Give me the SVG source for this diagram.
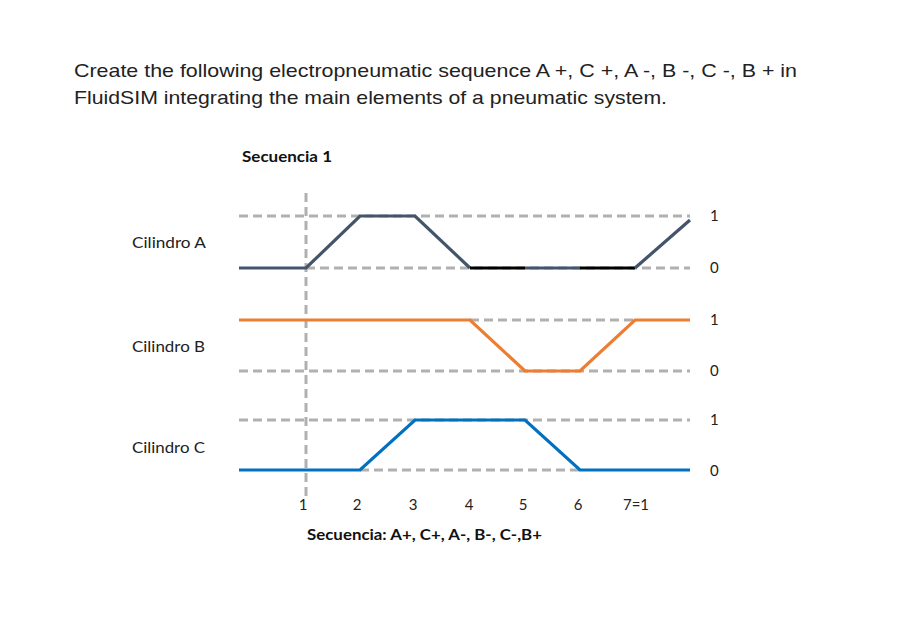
<svg xmlns="http://www.w3.org/2000/svg" width="900" height="630" viewBox="0 0 900 630">
<style>
.title{font-family:"Liberation Sans",Arial,sans-serif;font-size:19px;fill:#222}
.lab{font-family:Lato,"Noto Sans",sans-serif;font-size:15px;fill:#222}
.bold{font-family:Lato,"Noto Sans",sans-serif;font-size:16px;font-weight:bold;fill:#111}
.dash{stroke:#B0B0B0;stroke-width:3;stroke-dasharray:9 5;fill:none}
.sig{fill:none;stroke-width:3.2;stroke-linejoin:miter}
</style>
<rect width="900" height="630" fill="#fff"/>
<text class="title" x="74" y="77" textLength="723" lengthAdjust="spacingAndGlyphs">Create the following electropneumatic sequence A +, C +, A -, B -, C -, B + in</text>
<text class="title" x="74" y="104" textLength="593" lengthAdjust="spacingAndGlyphs">FluidSIM integrating the main elements of a pneumatic system.</text>
<text class="bold" x="242" y="162" textLength="90" lengthAdjust="spacingAndGlyphs">Secuencia 1</text>
<g id="grid">
<path class="dash" d="M306 193V497"/>
<path class="dash" d="M239 216H690M306 268H690"/>
<path class="dash" d="M470 320H635M239 371H690"/>
<path class="dash" d="M239 420H690M360 470H580"/>
</g>
<g id="cilindroA">
<text class="lab" x="132" y="248" textLength="74" lengthAdjust="spacingAndGlyphs">Cilindro A</text>
<path class="sig" stroke="#44546A" d="M239 268H306L360 216H415L470 268"/>
<path class="sig" stroke="#000" d="M470 268H525"/>
<path class="sig" stroke="#44546A" d="M525 268H580"/>
<path class="sig" stroke="#000" d="M580 268H635"/>
<path class="sig" stroke="#44546A" d="M635 268L690 220"/>
<text class="lab" x="710" y="221">1</text>
<text class="lab" x="710" y="273">0</text>
</g>
<g id="cilindroB">
<text class="lab" x="132" y="352" textLength="73" lengthAdjust="spacingAndGlyphs">Cilindro B</text>
<path class="sig" stroke="#ED7D31" d="M239 320H470L525 371H580L635 320H690"/>
<text class="lab" x="710" y="325">1</text>
<text class="lab" x="710" y="376">0</text>
</g>
<g id="cilindroC">
<text class="lab" x="132" y="453" textLength="73" lengthAdjust="spacingAndGlyphs">Cilindro C</text>
<path class="sig" stroke="#0070C0" d="M239 470H360L415 420H525L580 470H690"/>
<text class="lab" x="710" y="425">1</text>
<text class="lab" x="710" y="476">0</text>
</g>
<g id="axis" class="lab" text-anchor="middle">
<text x="303" y="510">1</text>
<text x="357" y="510">2</text>
<text x="413" y="510">3</text>
<text x="469" y="510">4</text>
<text x="523" y="510">5</text>
<text x="578" y="510">6</text>
<text x="636" y="510">7=1</text>
</g>
<text class="bold" x="307" y="540" textLength="235" lengthAdjust="spacingAndGlyphs">Secuencia: A+, C+, A-, B-, C-,B+</text>
</svg>
